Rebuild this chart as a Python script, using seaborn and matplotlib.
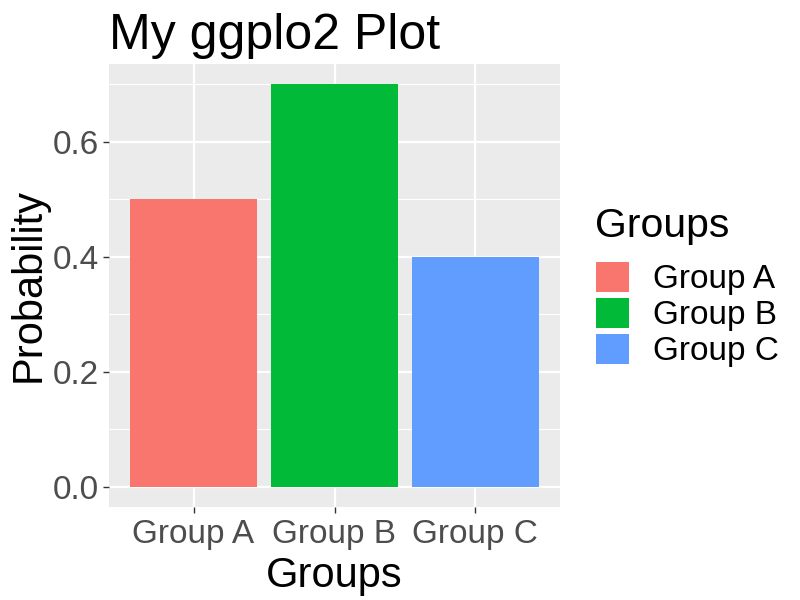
import matplotlib
matplotlib.use("Agg")
import matplotlib.pyplot as plt
import seaborn as sns
import pandas as pd
from matplotlib.ticker import MultipleLocator

groups = ["Group A", "Group B", "Group C"]
probability = [0.5, 0.7, 0.4]
colors = ["#F8766D", "#00BA38", "#619CFF"]
yticks = [0.0, 0.2, 0.4, 0.6]
ytick_labels = ["0.0", "0.2", "0.4", "0.6"]

df = pd.DataFrame({"Groups": groups, "Probability": probability})

sns.set_theme(style="white")
plt.rcParams["font.family"] = ["Liberation Sans", "DejaVu Sans"]

fig = plt.figure(figsize=(8, 6), dpi=100)
ax = fig.add_axes([109/800, 1 - 507/600, (560-109)/800, (507-64)/600])
ax.set_facecolor("#EBEBEB")

sns.barplot(data=df, x="Groups", y="Probability", hue="Groups",
            palette=colors, width=0.9, ax=ax, legend=True, saturation=1,
            edgecolor="none", linewidth=0)

ax.set_xlim(-0.6, 2.6)
ax.set_ylim(-0.035, 0.735)
ax.set_yticks(yticks)
ax.set_yticklabels(ytick_labels)
ax.yaxis.set_minor_locator(MultipleLocator(0.1))
ax.set_axisbelow(True)
ax.grid(which="major", color="white", linewidth=1.6)
ax.grid(which="minor", axis="y", color="white", linewidth=0.8)
for s in ax.spines.values():
    s.set_visible(False)

ax.tick_params(axis="both", which="major", length=4, width=1.0, color="#333333",
               labelcolor="#4D4D4D", labelsize=24)
ax.tick_params(axis="y", which="major", pad=3.5, left=True)
ax.tick_params(axis="x", which="major", pad=5, bottom=True)
ax.tick_params(which="minor", length=0)

ax.set_xlabel("Groups", fontsize=30, color="black", labelpad=4)
ax.set_ylabel("Probability", fontsize=30, color="black", labelpad=3)
ax.set_title("My ggplo2 Plot", fontsize=36, loc="left", pad=11, color="black")

handles, labels = ax.get_legend_handles_labels()
if ax.get_legend() is not None:
    ax.get_legend().remove()
fig.text(595/800, 1 - 237/600, "Groups", fontsize=29.5, color="black",
         ha="left", va="baseline")
leg = fig.legend(handles, labels, loc="upper left",
                 bbox_to_anchor=(596/800, 1 - 262/600), frameon=False,
                 fontsize=24, handlelength=1.0,
                 handleheight=1.0, handletextpad=0.7, labelspacing=0.08,
                 borderpad=0, borderaxespad=0)
for t in leg.get_texts():
    t.set_color("black")

fig.savefig("out.png", dpi=100)
